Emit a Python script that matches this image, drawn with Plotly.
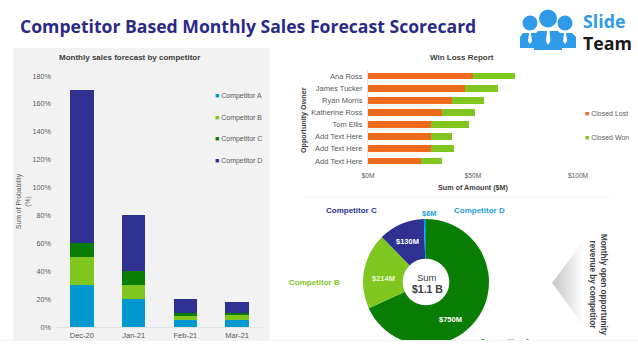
import plotly.graph_objects as go

W, H = 638, 359
FONT = "Liberation Sans"
GREY = "#595959"
INDIGO, DGREEN, LGREEN, BLUE, ORANGE = "#2E3192", "#0A7D05", "#7FC71E", "#0098CE", "#EE6A1F"

months = ["Dec-20", "Jan-21", "Feb-21", "Mar-21"]
comp_a = [30, 20, 5, 5]
comp_b = [20, 10, 3, 4]
comp_c = [10, 10, 2, 1]
comp_d = [110, 40, 10, 8]

owners = ["Ana Ross", "James Tucker", "Ryan Morris", "Katherine Ross", "Tom Ellis",
          "Add Text Here", "Add Text Here", "Add Text Here"]
owner_rank = [0, 1, 2, 3, 4, 5, 6, 7]
closed_lost = [50, 46, 40, 35, 30, 30, 30, 25]
closed_won = [20, 16, 15, 16, 18, 10, 11, 10]

pie_labels = ["Competitor A", "Competitor B", "Competitor C", "Competitor D"]
pie_values = [750, 214, 130, 6]
pie_text = ["$750M", "$214M", "$130M", "$6M"]


def px(x):
    return x / W


def py(y):
    return 1 - y / H


fig = go.Figure()
for name, vals, col in [("Competitor A", comp_a, BLUE), ("Competitor B", comp_b, LGREEN),
                        ("Competitor C", comp_c, DGREEN), ("Competitor D", comp_d, INDIGO)]:
    fig.add_trace(go.Bar(x=months, y=vals, name=name, marker=dict(color=col, line_width=0),
                         width=0.45, xaxis="x", yaxis="y"))
for name, vals, col in [("Closed Lost", closed_lost, ORANGE), ("Closed Won", closed_won, LGREEN)]:
    fig.add_trace(go.Bar(x=vals, y=owner_rank, name=name, orientation="h",
                         marker=dict(color=col, line_width=0), width=0.55, xaxis="x2", yaxis="y2"))
fig.add_trace(go.Pie(
    labels=pie_labels, values=pie_values, textinfo="none", sort=False,
    direction="clockwise", rotation=0, hole=0.37,
    marker=dict(colors=[DGREEN, LGREEN, INDIGO, BLUE], line_width=0),
    domain=dict(x=[px(363), px(489)], y=[py(345), py(219)]),
    automargin=False, showlegend=False))
# label that the bottom edge of the slide crops
fig.add_trace(go.Scatter(x=[505], y=[342], mode="text", text=["Competitor A"],
                         textfont=dict(family=FONT, size=8, color="#2E9A3A", weight="bold"),
                         xaxis="x3", yaxis="y3", showlegend=False))

shapes = [
    dict(type="rect", xref="paper", yref="paper", x0=px(13), x1=px(270), y0=py(340), y1=py(48),
         fillcolor="#F2F2F2", line_width=0, layer="below"),
    dict(type="line", xref="paper", yref="paper", x0=px(305), x1=px(610), y0=py(197), y1=py(197),
         line=dict(color="#F4F4F4", width=1), layer="below"),
    dict(type="rect", xref="paper", yref="paper", x0=0, x1=1, y0=0, y1=py(340),
         fillcolor="white", line_width=0, layer="above"),
    dict(type="line", xref="paper", yref="paper", x0=0, x1=1, y0=py(340.5), y1=py(340.5),
         line=dict(color="#F4F4F4", width=1), layer="above"),
]

# grey chevron fading to the right
ax, ay, ex, ehalf, steps = 552, 283, 585, 45, 17
for i in range(steps):
    x0 = ax + (ex - ax) * i / steps
    x1 = ax + (ex - ax) * (i + 1) / steps
    h0 = ehalf * (x0 - ax) / (ex - ax)
    h1 = ehalf * (x1 - ax) / (ex - ax)
    v = int(200 + 55 * i / (steps - 1))
    shapes.append(dict(
        type="path", xref="paper", yref="paper",
        path=f"M{px(x0)},{py(ay - h0)} L{px(x1 + .5)},{py(ay - h1)} L{px(x1 + .5)},{py(ay + h1)} L{px(x0)},{py(ay + h0)} Z",
        fillcolor=f"rgb({v},{v},{v})", line_width=0, layer="below"))


# logo
LOGO = "#2F9BE8"


def circle(cx, cy, r, col=LOGO):
    return dict(type="circle", xref="paper", yref="paper", x0=px(cx - r), x1=px(cx + r),
                y0=py(cy + r), y1=py(cy - r), fillcolor=col, line_width=0)


def poly(pts, col=LOGO):
    d = "M" + " L".join(f"{px(a)},{py(b)}" for a, b in pts) + " Z"
    return dict(type="path", xref="paper", yref="paper", path=d, fillcolor=col, line_width=0)


shapes += [
    circle(530, 23, 7.5), circle(565, 23, 7.5), circle(548, 18.5, 9),
    poly([(520, 48), (520, 37), (523, 33), (537, 33), (537, 48)]),
    poly([(559, 48), (559, 33), (572, 33), (576, 37), (576, 48)]),
    poly([(534, 50), (534, 35), (538, 31), (558, 31), (562, 35), (562, 50)]),
    poly([(529, 33), (531, 33), (532, 41), (530, 44), (528, 41)], "white"),
    poly([(564, 33), (566, 33), (567, 41), (565, 44), (563, 41)], "white"),
    poly([(547, 31), (549.5, 31), (550.5, 41), (548, 45), (546, 41)], "white"),
]


def note(x, y, text, size=7.2, color=GREY, bold=False, angle=0, xanchor="center", family=FONT):
    return dict(xref="paper", yref="paper", x=px(x), y=py(y), text=text, showarrow=False,
                xanchor=xanchor, yanchor="middle", textangle=angle, align="center",
                font=dict(family=family, size=size, color=color,
                          weight="bold" if bold else "normal"))


annotations = [
    note(18, 26, "Competitor Based Monthly Sales Forecast Scorecard", 17.6, "#2B2A87", True, xanchor="left", family="Open Sans"),
    note(581, 21, "Slide", 17.8, "#2F9BE8", True, xanchor="left", family="Open Sans"),
    note(581, 43, "Team", 17.8, "#1A1A1A", True, xanchor="left", family="Open Sans"),
    note(129, 57, "Monthly sales forecast by competitor", 8, "#404040", True),
    note(23, 201, "Sum of Probability<br>(%)", 6.8, GREY, angle=-90),
    note(462, 57, "Win Loss Report", 8, "#404040", True),
    note(303, 120, "Opportunity Owner", 7.2, "#404040", True, angle=-90),
    note(473, 187, "Sum of Amount ($M)", 7.2, "#404040", True),
    note(351, 210, "Competitor C", 8, INDIGO, True),
    note(479, 210, "Competitor D", 8, "#1E9FD0", True),
    note(314, 282, "Competitor B", 8, LGREEN, True),
    note(450, 319, pie_text[0], 7.5, "white", True),
    note(383, 278, pie_text[1], 7.5, "#EAF6D8", True),
    note(407, 241, pie_text[2], 7.5, "white", True),
    note(429, 213, pie_text[3], 7.5, "#1E9FD0", True),
    note(427, 277, "Sum", 9.5, "#404040"),
    note(427, 289, "$1.1 B", 10.5, "#404040", True),
    note(598, 284, "Monthly open opportunity<br>revenue by competitor", 8.2, "#404040", True, angle=90),
]
for y, name, col in zip([96, 118, 139, 161], ["Competitor A", "Competitor B", "Competitor C", "Competitor D"],
                        [BLUE, LGREEN, DGREEN, INDIGO]):
    annotations.append(note(213, y, f'<span style="color:{col}">■</span> {name}', 7, GREY, xanchor="left"))
for y, name, col in [(114, "Closed Lost", ORANGE), (137, "Closed Won", LGREEN)]:
    annotations.append(note(583, y, f'<span style="color:{col}">■</span> {name}', 7, GREY, xanchor="left"))

fig.update_layout(
    width=W, height=H, margin=dict(l=0, r=0, t=0, b=0, pad=0, autoexpand=False),
    paper_bgcolor="white", plot_bgcolor="rgba(0,0,0,0)", barmode="stack", showlegend=False,
    font=dict(family=FONT, size=7.2, color=GREY),
    shapes=shapes, annotations=annotations,
    xaxis=dict(domain=[px(56), px(263)], showgrid=False, showline=True, linecolor="#E3E3E3",
               ticks="", tickfont=dict(size=7.5), ticklabelstandoff=1),
    yaxis=dict(domain=[py(327), py(76)], range=[0, 180], dtick=20, ticksuffix="%", showgrid=False,
               zeroline=False, ticks="", tickfont=dict(size=7.2), anchor="x", ticklabelstandoff=4),
    xaxis2=dict(domain=[px(368), px(610)], range=[0, 100 * 242 / 210], tickvals=[0, 50, 100],
                ticktext=["$0M", "$50M", "$100M"], showgrid=False, zeroline=False,
                tickfont=dict(size=6.6), anchor="y2", ticklabelstandoff=3),
    yaxis2=dict(domain=[py(167), py(70)], range=[7.5, -0.5], tickvals=owner_rank, ticktext=owners,
                showgrid=False, showline=True, zeroline=False,
                linecolor="#E3E3E3", ticks="", tickfont=dict(size=7.5), anchor="x2", ticklabelstandoff=3),
    xaxis3=dict(domain=[0, 1], range=[0, W], visible=False, anchor="y3"),
    yaxis3=dict(domain=[0, 1], range=[H, 0], visible=False, anchor="x3"),
)
fig.write_html("out.html", config=dict(displayModeBar=False),
               post_script="document.body.style.margin='0';document.documentElement.style.overflow='hidden';")
